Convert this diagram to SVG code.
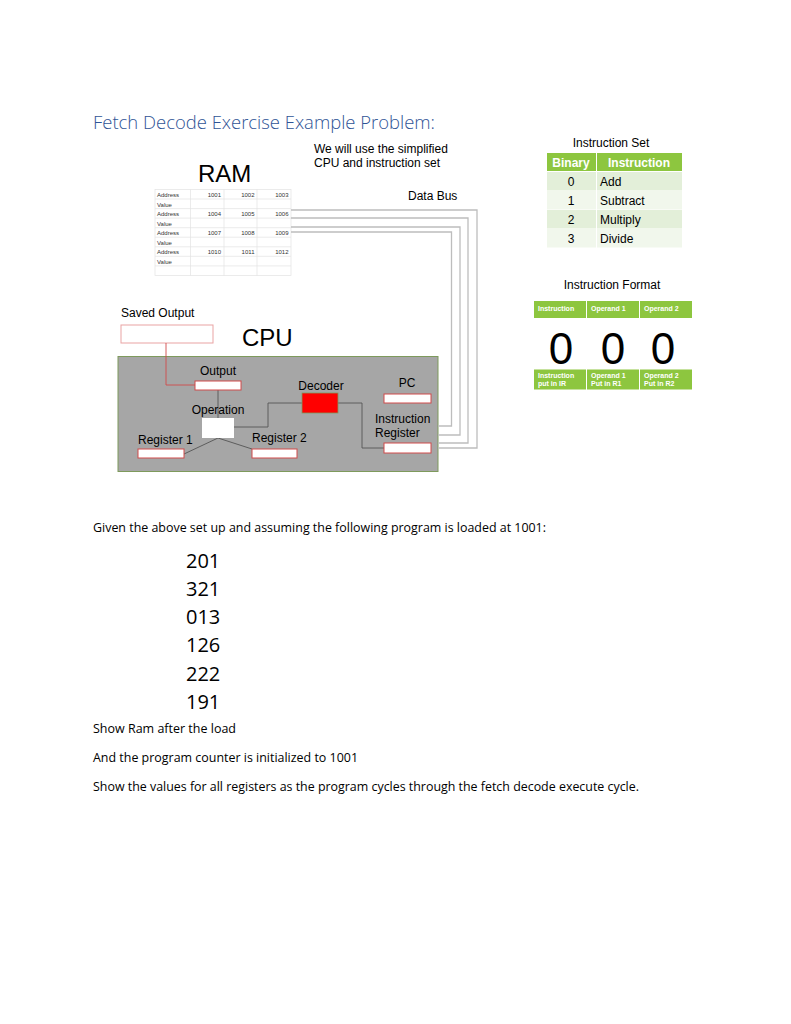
<svg xmlns="http://www.w3.org/2000/svg" width="791" height="1024" viewBox="0 0 791 1024">
<style>
.s{font-family:"Liberation Sans",Arial,sans-serif;fill:#000}
.b{font-family:"Open Sans","Liberation Sans",sans-serif;fill:#000}
.rt{font-family:"Liberation Sans",Arial,sans-serif;font-size:6px;fill:#333}
.reg{fill:#fff;stroke:#d04a4a;stroke-width:1}
.bus{fill:none;stroke:#bdbdbd;stroke-width:1.3}
.wire{fill:none;stroke:#555;stroke-width:0.9}
.hd{font-family:"Liberation Sans",Arial,sans-serif;font-weight:bold;fill:#fff}
.grid{stroke:#e3e3e3;stroke-width:0.7}
</style>
<rect width="791" height="1024" fill="#fff"/>
<text x="93" y="129" font-family="'Open Sans','Liberation Sans',sans-serif" font-weight="300" font-size="19" fill="#2f5496" textLength="342" lengthAdjust="spacingAndGlyphs">Fetch Decode Exercise Example Problem:</text>

<g id="ram">
<text x="198" y="182" class="s" font-size="24">RAM</text>
<rect x="155" y="189.5" width="136" height="86" fill="#fff" stroke="#e3e3e3" stroke-width="0.7"/>
<g class="grid">
<line x1="190.5" y1="189.5" x2="190.5" y2="275.5"/>
<line x1="224" y1="189.5" x2="224" y2="275.5"/>
<line x1="257" y1="189.5" x2="257" y2="275.5"/>
<line x1="155" y1="199" x2="291" y2="199"/>
<line x1="155" y1="208.6" x2="291" y2="208.6"/>
<line x1="155" y1="218.1" x2="291" y2="218.1"/>
<line x1="155" y1="227.7" x2="291" y2="227.7"/>
<line x1="155" y1="237.2" x2="291" y2="237.2"/>
<line x1="155" y1="246.8" x2="291" y2="246.8"/>
<line x1="155" y1="256.3" x2="291" y2="256.3"/>
<line x1="155" y1="265.9" x2="291" y2="265.9"/>
</g>
<text x="157" y="197" class="rt">Address</text>
<text x="157" y="206.5" class="rt">Value</text>
<text x="157" y="216" class="rt">Address</text>
<text x="157" y="225.5" class="rt">Value</text>
<text x="157" y="235" class="rt">Address</text>
<text x="157" y="244.5" class="rt">Value</text>
<text x="157" y="254" class="rt">Address</text>
<text x="157" y="263.5" class="rt">Value</text>
<g text-anchor="end">
<text x="221" y="197" class="rt">1001</text><text x="254.5" y="197" class="rt">1002</text><text x="288.5" y="197" class="rt">1003</text>
<text x="221" y="216" class="rt">1004</text><text x="254.5" y="216" class="rt">1005</text><text x="288.5" y="216" class="rt">1006</text>
<text x="221" y="235" class="rt">1007</text><text x="254.5" y="235" class="rt">1008</text><text x="288.5" y="235" class="rt">1009</text>
<text x="221" y="254" class="rt">1010</text><text x="254.5" y="254" class="rt">1011</text><text x="288.5" y="254" class="rt">1012</text>
</g>
</g>

<g id="note">
<text x="314" y="153" class="s" font-size="12">We will use the simplified</text>
<text x="314" y="167" class="s" font-size="12">CPU and instruction set</text>
</g>
<text x="408" y="200" class="s" font-size="12">Data Bus</text>

<g id="instruction-set">
<text x="611" y="147" class="s" font-size="12" text-anchor="middle">Instruction Set</text>
<rect x="547" y="153" width="135" height="18" fill="#8dc63f"/>
<line x1="596.5" y1="153" x2="596.5" y2="171" stroke="#fff" stroke-width="1"/>
<text x="571" y="166.5" class="hd" font-size="12" text-anchor="middle">Binary</text>
<text x="639" y="166.5" class="hd" font-size="12" text-anchor="middle">Instruction</text>
<rect x="547" y="172" width="135" height="18.5" fill="#e3efd9"/>
<rect x="547" y="191" width="135" height="18.5" fill="#f1f7ec"/>
<rect x="547" y="210" width="135" height="18.5" fill="#e3efd9"/>
<rect x="547" y="229" width="135" height="18.5" fill="#f1f7ec"/>
<g stroke="#fff" stroke-width="1"><line x1="596.5" y1="171" x2="596.5" y2="248"/></g>
<text x="571" y="186" class="s" font-size="12" text-anchor="middle">0</text>
<text x="600" y="186" class="s" font-size="12">Add</text>
<text x="571" y="205" class="s" font-size="12" text-anchor="middle">1</text>
<text x="600" y="205" class="s" font-size="12">Subtract</text>
<text x="571" y="224" class="s" font-size="12" text-anchor="middle">2</text>
<text x="600" y="224" class="s" font-size="12">Multiply</text>
<text x="571" y="243" class="s" font-size="12" text-anchor="middle">3</text>
<text x="600" y="243" class="s" font-size="12">Divide</text>
</g>

<g id="instruction-format">
<text x="612" y="289" class="s" font-size="12" text-anchor="middle">Instruction Format</text>
<rect x="534" y="301" width="52" height="17" fill="#8dc63f"/>
<rect x="587" y="301" width="52" height="17" fill="#8dc63f"/>
<rect x="640" y="301" width="52" height="17" fill="#8dc63f"/>
<text x="538" y="310.5" class="hd" font-size="7">Instruction</text>
<text x="591" y="310.5" class="hd" font-size="7">Operand 1</text>
<text x="644" y="310.5" class="hd" font-size="7">Operand 2</text>
<text x="561" y="364" class="s" font-size="44" text-anchor="middle">0</text>
<text x="613" y="364" class="s" font-size="44" text-anchor="middle">0</text>
<text x="663" y="364" class="s" font-size="44" text-anchor="middle">0</text>
<rect x="534" y="369.5" width="52" height="20" fill="#8dc63f"/>
<rect x="587" y="369.5" width="52" height="20" fill="#8dc63f"/>
<rect x="640" y="369.5" width="52" height="20" fill="#8dc63f"/>
<text x="538" y="378" class="hd" font-size="7">Instruction</text>
<text x="538" y="386" class="hd" font-size="7">put in IR</text>
<text x="591" y="378" class="hd" font-size="7">Operand 1</text>
<text x="591" y="386" class="hd" font-size="7">Put in R1</text>
<text x="644" y="378" class="hd" font-size="7">Operand 2</text>
<text x="644" y="386" class="hd" font-size="7">Put in R2</text>
</g>

<g id="saved-output">
<text x="121" y="317" class="s" font-size="12">Saved Output</text>
<rect x="121" y="325" width="92" height="18" fill="#fff" stroke="#e9a3a3" stroke-width="1"/>
</g>

<text x="242" y="346" class="s" font-size="24">CPU</text>

<g id="cpu">
<rect x="118" y="356.5" width="320" height="115" fill="#a6a6a6" stroke="#7e9a5c" stroke-width="1"/>
</g>

<g id="connectors">
<polyline class="bus" points="291,210 477,210 477,448 438,448"/>
<polyline class="bus" points="291,218 468,218 468,443 438,443"/>
<polyline class="bus" points="291,227 460,227 460,435 438,435"/>
<polyline class="bus" points="291,232 451.5,232 451.5,426 438,426"/>
<polyline points="166,343 166,385 195,385" fill="none" stroke="#d04a4a" stroke-width="0.9"/>
<line class="wire" x1="218" y1="390" x2="218" y2="418"/>
<polyline class="wire" points="234,427 268,427 268,403 302,403"/>
<polyline class="wire" points="338,403 362,403 362,448 384,448"/>
<polyline class="wire" points="184,454 218,438 252,449"/>
</g>

<g id="output">
<text x="218" y="375" class="s" font-size="12" text-anchor="middle">Output</text>
<rect class="reg" x="195" y="381" width="46" height="9"/>
</g>
<g id="operation">
<text x="218" y="414" class="s" font-size="12" text-anchor="middle">Operation</text>
<rect x="202" y="418" width="32" height="20" fill="#fff"/>
</g>
<g id="decoder">
<text x="321" y="390" class="s" font-size="12" text-anchor="middle">Decoder</text>
<rect x="302" y="393" width="36" height="20" fill="#ff0000" stroke="#7e9a5c" stroke-width="0.8"/>
</g>
<g id="pc">
<text x="407" y="387" class="s" font-size="12" text-anchor="middle">PC</text>
<rect class="reg" x="384" y="394" width="47" height="9"/>
</g>
<g id="instruction-register">
<text x="375" y="423" class="s" font-size="12">Instruction</text>
<text x="375" y="437" class="s" font-size="12">Register</text>
<rect class="reg" x="384" y="443" width="47" height="10"/>
</g>
<g id="register1">
<text x="138" y="444" class="s" font-size="12">Register 1</text>
<rect class="reg" x="138" y="449" width="46" height="9"/>
</g>
<g id="register2">
<text x="252" y="442" class="s" font-size="12">Register 2</text>
<rect class="reg" x="252" y="449" width="45" height="9"/>
</g>

<g id="body">
<text x="93" y="532" class="b" font-size="12.5" textLength="453" lengthAdjust="spacingAndGlyphs">Given the above set up and assuming the following program is loaded at 1001:</text>
<text x="186" y="568" class="b" font-size="20">201</text>
<text x="186" y="596" class="b" font-size="20">321</text>
<text x="186" y="624" class="b" font-size="20">013</text>
<text x="186" y="652" class="b" font-size="20">126</text>
<text x="186" y="681" class="b" font-size="20">222</text>
<text x="186" y="709" class="b" font-size="20">191</text>
<text x="93" y="733" class="b" font-size="12.5" textLength="143" lengthAdjust="spacingAndGlyphs">Show Ram after the load</text>
<text x="93" y="762" class="b" font-size="12.5" textLength="265" lengthAdjust="spacingAndGlyphs">And the program counter is initialized to 1001</text>
<text x="93" y="791" class="b" font-size="12.5" textLength="546" lengthAdjust="spacingAndGlyphs">Show the values for all registers as the program cycles through the fetch decode execute cycle.</text>
</g>
</svg>
